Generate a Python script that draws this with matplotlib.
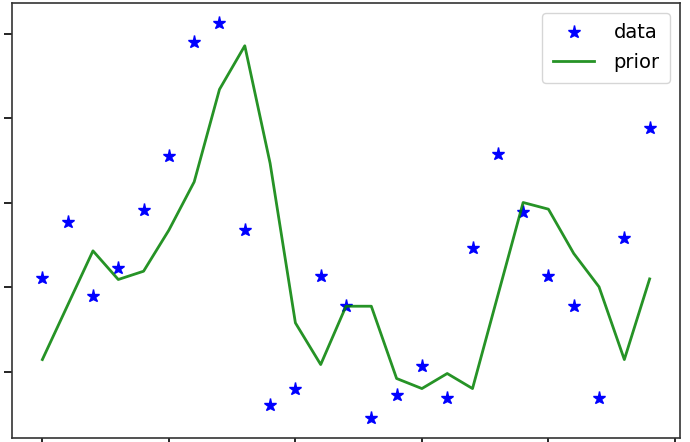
import matplotlib
matplotlib.use("Agg")
import matplotlib.pyplot as plt
import numpy as np

x = list(range(25))
data = [0.103, 0.766, -0.110, 0.228, 0.908, 1.550, 2.896, 3.128, 0.675, -1.388,
        -1.199, 0.130, -0.225, -1.550, -1.270, -0.935, -1.310, 0.458, 1.574, 0.888,
        0.130, -0.225, -1.310, 0.580, 1.878]
prior = [-0.856, -0.213, 0.430, 0.091, 0.189, 0.675, 1.246, 2.340, 2.856, 1.467,
         -0.422, -0.915, -0.225, -0.225, -1.080, -1.199, -1.021, -1.199, -0.098, 1.002,
         0.923, 0.399, 0.004, -0.856, 0.098]
xticks = [0, 5, 10, 15, 20, 25]
yticks = [-1, 0, 1, 2, 3]

fig = plt.figure(figsize=(6.9, 4.42), dpi=100)
ax = fig.add_axes([12/690, 4/442, 668/690, 435/442])
ax.plot(x, data, '*', color='blue', markersize=9.5, label='data')
ax.plot(x, prior, '-', color='green', linewidth=2, alpha=0.85, label='prior')
ax.set_xticks(xticks)
ax.set_yticks(yticks)
ax.set_xticklabels([])
ax.set_yticklabels([])
ax.tick_params(length=6, width=1.2)
for s in ax.spines.values():
    s.set_linewidth(1.2)
    s.set_color('#333333')
ax.legend(loc='upper right', fontsize=14, handlelength=2.1, handletextpad=1.0,
          labelspacing=0.55, borderpad=0.55, borderaxespad=0.5)
fig.savefig('out.png', dpi=100)
